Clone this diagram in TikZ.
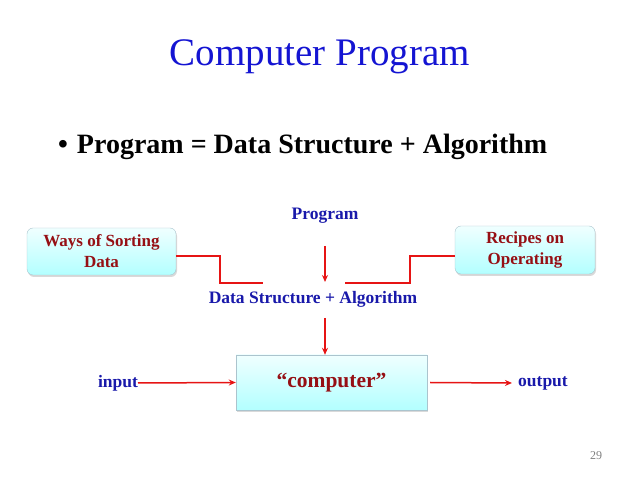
\documentclass[tikz,border=0pt]{standalone}
\usepackage{fontspec}
\setmainfont{Liberation Serif}
\usetikzlibrary{arrows.meta,shadows,calc}
\definecolor{tblue}{RGB}{20,20,210}
\definecolor{lblue}{RGB}{25,25,170}
\definecolor{dred}{RGB}{150,15,20}
\definecolor{lred}{RGB}{230,20,20}
\tikzset{
  cbox/.style={draw=cyan!30!gray!60, rounded corners=#1, top color=cyan!6, bottom color=cyan!30, drop shadow={shadow xshift=1pt,shadow yshift=-2pt,opacity=0.3}, text=dred, font=\bfseries\fontsize{17}{21}\selectfont, align=center, inner sep=0pt},
  lab/.style={text=lblue, font=\bfseries\fontsize{17.5}{21}\selectfont, inner sep=0pt},
  conn/.style={lred, line width=1.5pt},
  arr/.style={conn, -{Stealth[length=7pt,width=6pt]}}
}
\begin{document}
\begin{tikzpicture}[x=1pt,y=-1pt]
\useasboundingbox (0,0) rectangle (638,478);
\node[text=tblue, font=\fontsize{39}{44}\selectfont] (title) at (320,57) {Computer Program};
\node[anchor=west, font=\bfseries\fontsize{28}{32}\selectfont, inner sep=0pt] (bul) at (58,147) {\textbullet\hspace{9pt}Program = Data Structure + Algorithm};
\node[cbox=6pt, minimum width=149pt, minimum height=47pt] (ways) at (101.5,251.5) {Ways of Sorting\\Data};
\node[cbox=6pt, minimum width=140pt, minimum height=48pt] (rec) at (525,250) {Recipes on\\Operating};
\node[lab] (prog) at (325,216) {Program};
\node[lab] (dsa) at (313,299) {Data Structure + Algorithm};
\node[cbox=0pt, minimum width=191pt, minimum height=55pt, font=\bfseries\fontsize{21.5}{24}\selectfont] (comp) at (331.5,382.5) {“computer”};
\node[lab] (in) at (118,383) {input};
\node[lab] (out) at (543,383) {output};
\node[text=gray, font=\fontsize{12}{14}\selectfont] (pg) at (596,456) {29};
\coordinate (wl) at (263,283);
\coordinate (rl) at (345,283);
\draw[conn] (ways.east |- 0,256) -- (220,256) -- (220,283) -- (wl);
\draw[conn] (rec.west |- 0,256) -- (410,256) -- (410,283) -- (rl);
\draw[arr] (325,246) -- (325,282);
\draw[arr] (325,318) -- (comp.north -| 325,0);
\draw[arr] (138,383) -- (comp.west);
\draw[arr] ($(comp.east)+(3,0)$) -- (512,383);
\end{tikzpicture}
\end{document}
